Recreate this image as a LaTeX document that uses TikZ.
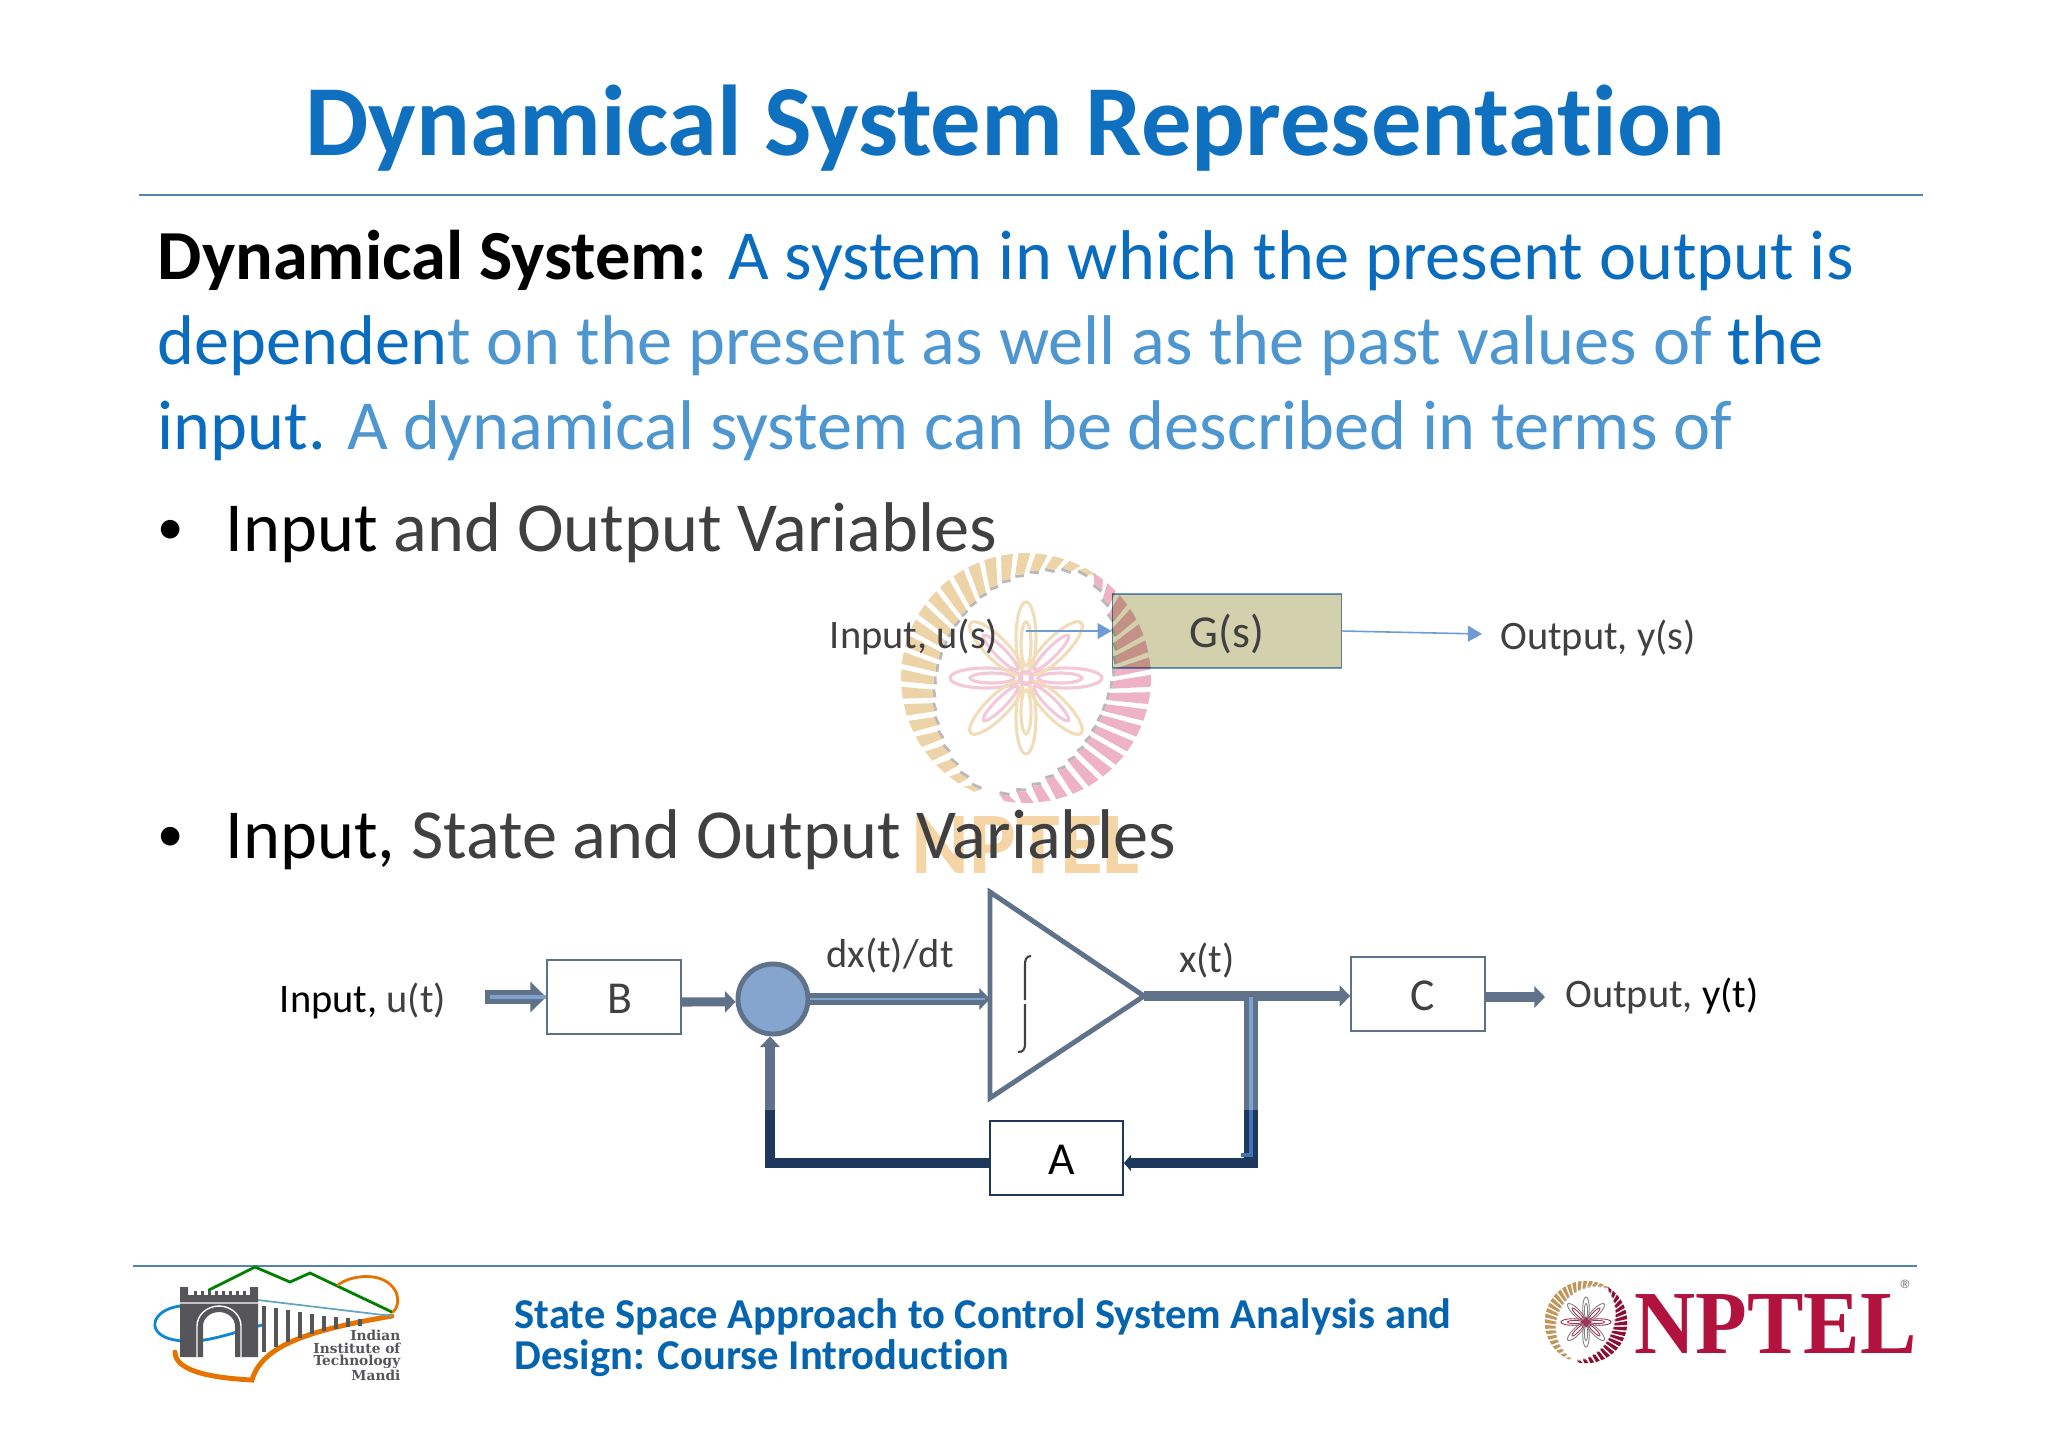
\documentclass[tikz,border=0pt]{standalone}
\usepackage{fontspec}
\setmainfont[Ligatures=NoCommon]{Carlito}
\newfontfamily\logoserif{DejaVu Serif}
\newfontfamily\nptelserif{Liberation Serif}
\usetikzlibrary{arrows.meta}
\definecolor{titleblue}{RGB}{15,112,192}
\definecolor{rulec}{RGB}{84,130,176}
\definecolor{deepblue}{RGB}{10,108,190}
\definecolor{paleblue}{RGB}{78,150,208}
\definecolor{bodygray}{RGB}{64,64,64}
\definecolor{slate}{RGB}{96,114,137}
\definecolor{navyline}{RGB}{30,55,92}
\definecolor{lightline}{RGB}{128,160,205}
\definecolor{kneeblue}{RGB}{68,114,180}
\definecolor{sumfill}{RGB}{133,165,206}
\definecolor{plantfill}{RGB}{210,208,173}
\definecolor{plantline}{RGB}{110,155,210}
\definecolor{marktan}{RGB}{237,212,168}
\definecolor{markpink}{RGB}{238,178,198}
\definecolor{markword}{RGB}{245,212,165}
\definecolor{crimson}{RGB}{178,18,62}
\definecolor{ringtan}{RGB}{192,150,90}
\definecolor{footblue}{RGB}{5,100,175}
\definecolor{gatewall}{RGB}{85,85,90}
\tikzset{
  headline/.style={anchor=base,inner sep=0,text=titleblue,font=\fontsize{28.6}{34}\selectfont\bfseries},
  bodyline/.style={anchor=base west,inner sep=0,font=\fontsize{20}{24}\selectfont},
  pointline/.style={anchor=base west,inner sep=0,text=bodygray,font=\fontsize{20}{24}\selectfont},
  dotline/.style={anchor=base west,inner sep=0,text=black,font=\fontsize{15}{18}\selectfont},
  tag/.style={anchor=base,inner sep=0,text=bodygray,font=\fontsize{11.5}{14}\selectfont},
  blocktag/.style={anchor=base,inner sep=0,text=#1,font=\fontsize{13}{16}\selectfont},
  blocktag/.default=bodygray,
  footline/.style={anchor=base west,inner sep=0,text=footblue,font=\fontsize{12.1}{15}\selectfont\bfseries},
  crest/.style={anchor=base east,inner sep=0,text=gatewall,font=\logoserif\fontsize{3.9}{3.9}\selectfont\bfseries},
  sysbox/.style={draw=#1,line width=.5pt,fill=white,inner sep=0},
  sysbox/.default=slate,
  wire/.style={draw=#1,line width=2.6pt,-{Triangle[length=3pt,width=6pt]}},
  wire/.default=slate,
  thin wire/.style={draw=plantline,line width=.45pt,-{Triangle[length=4pt,width=4.5pt]}},
  logoline/.style={line width=.8pt,line cap=round},
  % pictograms
  pics/mark ring/.style 2 args={code={
    \foreach \a in {56,64,...,240}{
      \pgfmathsetmacro{\rin}{125-36*sin((\a-48)*0.9)}
      \fill[gray!55] ({(\rin-3)*cos(\a+3)},{-(\rin-3)*sin(\a+3)}) -- ({\rin*cos(\a+3)},{-\rin*sin(\a+3)}) -- ({\rin*cos(\a+8)},{-\rin*sin(\a+8)}) -- ({(\rin-3)*cos(\a+8)},{-(\rin-3)*sin(\a+8)}) -- cycle;
      \fill[#1] ({125*cos(\a)},{-125*sin(\a)}) -- ({\rin*cos(\a+3)},{-\rin*sin(\a+3)}) -- ({\rin*cos(\a+8)},{-\rin*sin(\a+8)}) -- ({125*cos(\a+5.5)},{-125*sin(\a+5.5)}) -- cycle;
    }
    \foreach \a in {-100,-92,...,56}{
      \pgfmathsetmacro{\rin}{125-40*sin((\a+108)*1.0465)}
      \fill[gray!55] ({(\rin-3)*cos(\a-3)},{-(\rin-3)*sin(\a-3)}) -- ({\rin*cos(\a-3)},{-\rin*sin(\a-3)}) -- ({\rin*cos(\a+2)},{-\rin*sin(\a+2)}) -- ({(\rin-3)*cos(\a+2)},{-(\rin-3)*sin(\a+2)}) -- cycle;
      \fill[#2] ({125*cos(\a)},{-125*sin(\a)}) -- ({\rin*cos(\a-3)},{-\rin*sin(\a-3)}) -- ({\rin*cos(\a+2)},{-\rin*sin(\a+2)}) -- ({125*cos(\a+5.5)},{-125*sin(\a+5.5)}) -- cycle;
    }
  }},
  pics/mark flower/.style 2 args={code={
    \foreach \a in {0,180}{
      \draw[#1,rotate=\a] (40,0) ellipse (36 and 10);
      \draw[#1,rotate=\a] (34,0) ellipse (22 and 5);
    }
    \foreach \a in {90,270}{
      \draw[#2,rotate=\a] (40,0) ellipse (36 and 10);
      \draw[#2,rotate=\a] (34,0) ellipse (22 and 5);
    }
    \foreach \a in {45,135,...,315}{
      \draw[#2,rotate=\a] (42,0) ellipse (36 and 11);
      \draw[#1,rotate=\a] (36,0) ellipse (24 and 5);
    }
    \draw[#1,line width=1.2pt] (0,0) circle (6);
  }},
}
\begin{document}
\begin{tikzpicture}[x=0.01cm,y=-0.01cm]
  \useasboundingbox (0,0) rectangle (2048,1447);
  % watermark
  \pic at (1026,678) {mark ring={marktan}{markpink}};
  \pic[line width=.9pt] at (1026,678) {mark flower={markpink!70}{marktan!80}};
  \node[anchor=base,inner sep=0,text=markword,font=\fontsize{25}{25}\selectfont\bfseries] (wmark) at (1026,873) {NPTEL};

  % heading
  \node[headline] (title) at (1015,155) {Dynamical System Representation};
  \coordinate (rulea) at (139,195);
  \coordinate (ruleb) at (1923,195);
  \draw[rulec,line width=.5pt] (rulea) -- (ruleb);

  \node[bodyline] (lineone) at (157,279) {\textbf{Dynamical System:} \textcolor{deepblue}{A system in which the present output is}};
  \node[bodyline] (linetwo) at (157,364) {\textcolor{deepblue}{dependen}\textcolor{paleblue}{t on the present as well as the past values of} \textcolor{deepblue}{the}};
  \node[bodyline] (linethree) at (157,449) {\textcolor{deepblue}{input.} \textcolor{paleblue}{A dynamical system can be described in terms of}};

  \node[dotline] (dotone) at (157,544) {•};
  \node[pointline] (pointone) at (225,551) {\textcolor{black}{Input} and Output Variables};
  \node[dotline] (dottwo) at (157,851) {•};
  \node[pointline] (pointtwo) at (225,858) {\textcolor{black}{Input,} State and Output Variables};

  % plant block
  \begin{scope}[blend mode=multiply]
    \node[draw=plantline,line width=.5pt,fill=plantfill,minimum width=229*.2845pt,minimum height=74*.2845pt,inner sep=0] (plant) at (1227,631) {};
  \end{scope}
  \node[blocktag] (plantlabel) at (1227,647) {G(s)};
  \node[tag] (inputs) at (914,648) {Input, u(s)};
  \node[tag] (outputs) at (1598,649) {Output, y(s)};
  \coordinate (ustart) at (1026,631);
  \coordinate (uend) at (1482,634);
  \draw[thin wire] (ustart) -- (plant.west);
  \draw[thin wire] (plant.east) -- (uend);

  % state model
  \node[sysbox,minimum width=134*.2845pt,minimum height=74*.2845pt] (bbox) at (614,997) {};
  \node[blocktag] (blabel) at (620,1013) {B};
  \node[circle,draw=slate,line width=1.4pt,fill=sumfill,minimum size=70*.2845pt,inner sep=0] (sum) at (773,999) {};
  \node[sysbox=navyline,minimum width=133*.2845pt,minimum height=74*.2845pt] (abox) at (1056.5,1158) {};
  \node[blocktag=black] (alabel) at (1062,1174) {A};
  \node[sysbox,minimum width=134*.2845pt,minimum height=74*.2845pt] (cbox) at (1418,994) {};
  \node[blocktag] (clabel) at (1423,1010) {C};
  \coordinate (itop) at (990,892);
  \coordinate (ibot) at (990,1098);
  \coordinate (itip) at (1144,996);
  \draw[slate,line width=1.4pt,line join=miter] (itop) -- (itip) -- (ibot) -- cycle;
  \draw[bodygray,line width=.6pt] (1031,956) .. controls (1026,956) and (1025,960) .. (1025,965) -- (1025,1000);
  \draw[bodygray,line width=.6pt] (1025,1004) -- (1025,1043) .. controls (1025,1050) and (1023,1052) .. (1018,1052);

  \node[tag,text=black] (inputt) at (363,1012) {Input, \textcolor{bodygray}{u(t)}};
  \node[tag] (dxlabel) at (890,967) {dx(t)/dt};
  \node[tag] (xlabel) at (1207,972) {x(t)};
  \node[tag] (outputt) at (1662,1007) {Output, \textcolor{black}{y(t)}};

  \coordinate (ustate) at (485,997);
  \coordinate (tap) at (1251,997);
  \coordinate (taptop) at (1251,991);
  \coordinate (tapknee) at (1251,1163);
  \coordinate (tapshade) at (1251,1110);
  \coordinate (fbknee) at (770,1163);
  \coordinate (fbshade) at (770,1110);
  \coordinate (yend) at (1545,997);

  \draw[slate,line width=4.2pt,-{Triangle[length=4.5pt,width=8.6pt]}] (ustate) -- (bbox.west);
  \draw[lightline,line width=1.4pt] (490,997) -- (bbox.west);
  \draw[wire] ([yshift=-1.4pt]bbox.east) -- ([yshift=-.8pt]sum.west);
  \draw[wire,line width=3.4pt] (sum.east) -- (itop |- sum.east);
  \draw[lightline,line width=.6pt] (sum.east) -- (985,999);
  \draw[wire] (itip) -- (cbox.west |- itip);
  \draw[wire] (cbox.east |- yend) -- (yend);

  % feedback
  \draw[slate,line width=2.8pt,-{Triangle[length=3pt,width=5.5pt]}] (fbshade) -- (fbshade |- sum.south);
  \draw[navyline,line width=2.8pt,line join=miter] (abox.west |- fbknee) -- (fbknee) -- (fbshade);
  \draw[slate,line width=4pt] (taptop) -- (tapshade);
  \draw[lightline,line width=1.4pt] (tap) -- (tapshade);
  \draw[navyline,line width=4pt] (tapshade) -- ([yshift=-1.4pt]tapknee);
  \draw[navyline,line width=2.8pt,-{Triangle[length=2pt,width=4.5pt]}] ([xshift=2pt]tapknee) -- (abox.east |- tapknee);
  \draw[kneeblue,line width=1.4pt] (tapshade) -- (1251,1155) -- (1241,1155);

  % footer
  \coordinate (foota) at (133,1266);
  \coordinate (footb) at (1917,1266);
  \draw[rulec,line width=.5pt] (foota) -- (footb);
  \node[footline] (footone) at (514,1328) {State Space Approach to Control System Analysis and};
  \node[footline] (foottwo) at (514,1369) {Design: Course Introduction};

  % institute logo
  \draw[green!50!black,logoline] (209,1290) -- (255,1267) -- (290,1282) -- (310,1273) -- (392,1312);
  \draw[orange!90!black,logoline] (338,1285) .. controls (350,1275) and (385,1270) .. (396,1292) .. controls (399,1300) and (398,1308) .. (393,1312);
  \draw[cyan!70!blue,logoline] (180,1306) .. controls (150,1310) and (145,1335) .. (175,1340) .. controls (200,1345) and (225,1335) .. (262,1325);
  \draw[orange!90!black,logoline,line width=1.4pt] (175,1352) .. controls (175,1372) and (215,1378) .. (252,1380) .. controls (262,1345) and (310,1330) .. (392,1316);
  \draw[cyan!50!gray,logoline,line width=.5pt] (258,1300) -- (392,1316);
  \fill[gatewall] (180,1287) -- (180,1357) -- (203,1357) -- (203,1326) arc (180:360:16 and 14) -- (235,1357) -- (258,1357) -- (258,1287) -- (250,1287) -- (250,1295) -- (188,1295) -- (188,1287) -- cycle;
  \foreach \x in {194,201,...,243}
    \fill[gatewall] (\x,1291) rectangle (\x+3,1296);
  \draw[white,line width=.4pt] (180,1303) -- (258,1303) (197,1357) -- (197,1326) arc (180:360:22 and 20) -- (241,1357);
  \foreach \x/\t/\b in {264/1306/1352,276/1308/1347,288/1310/1342,300/1312/1338,312/1314/1334,324/1316/1331,336/1317/1329,348/1318/1327,360/1319/1326}
    \draw[gatewall,line width=1.1pt] (\x,\t) -- (\x,\b);
  \node[crest] (logotext) at (401,1340) {Indian};
  \node[crest] (logotextb) at (401,1353) {Institute of};
  \node[crest] (logotextc) at (401,1365) {Technology};
  \node[crest] (logotextd) at (401,1380) {Mandi};

  % nptel logo
  \pic[scale=.33] at (1586,1322) {mark ring={ringtan}{crimson!80!black}};
  \pic[scale=.33,line width=.25pt] at (1586,1322) {mark flower={crimson!70!gray}{gray}};
  \node[anchor=base west,inner sep=0,text=crimson,font=\nptelserif\fontsize{25.6}{26}\selectfont\bfseries] (nptel) at (1634,1353) {\scalebox{.94}[1]{NPTEL}};
  \node[inner sep=0,text=gray,font=\fontsize{8}{8}\selectfont] (regmark) at (1907,1290) {®};
\end{tikzpicture}
\end{document}
